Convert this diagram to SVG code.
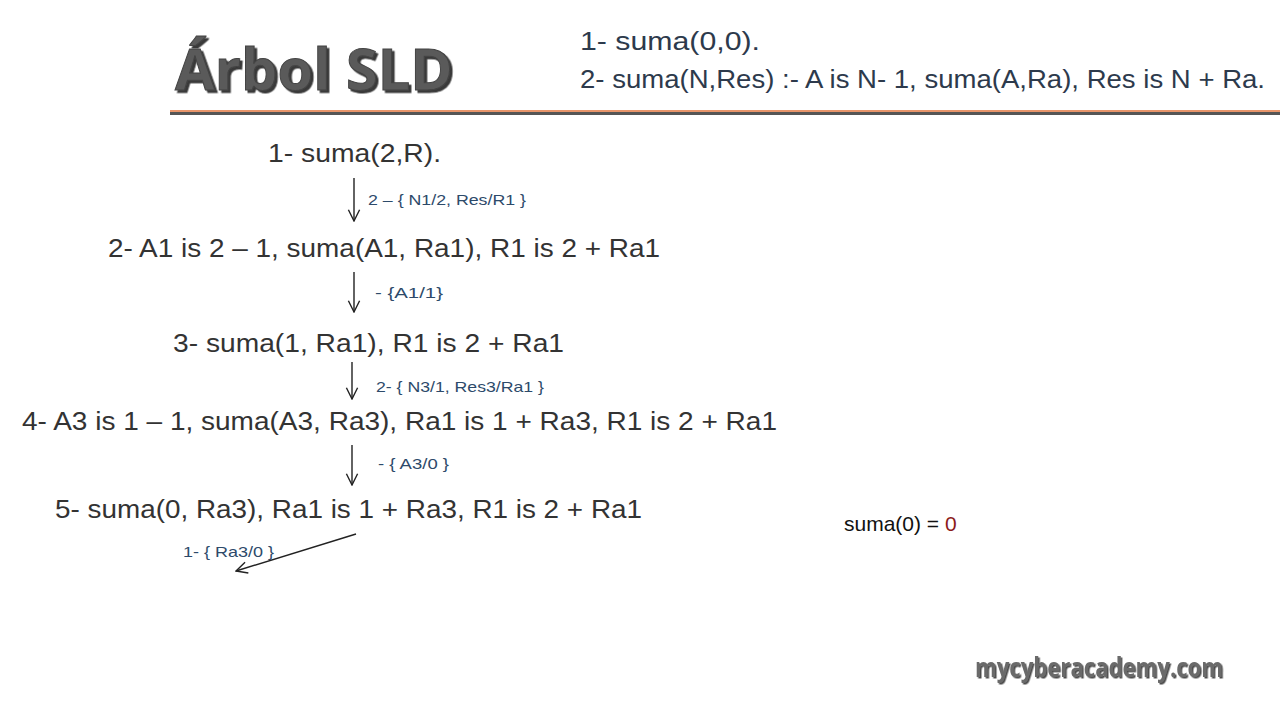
<svg xmlns="http://www.w3.org/2000/svg" width="1280" height="720" viewBox="0 0 1280 720">
<defs>
<style>
.node{font-family:"Liberation Sans",Arial,sans-serif;font-size:25px;fill:#333}
.hdr{font-family:"Liberation Sans",Arial,sans-serif;font-size:25px;fill:#2d3a4c}
.lbl{font-family:"Liberation Sans",Arial,sans-serif;font-size:15px;fill:#2d4a6a}
.conn{stroke:#222;stroke-width:1.4;fill:none}
</style>
<filter id="sh" x="-10%" y="-20%" width="120%" height="150%">
<feDropShadow dx="2.5" dy="2.5" stdDeviation="0.6" flood-color="#222" flood-opacity="0.9"/>
</filter>
<filter id="sh2" x="-10%" y="-20%" width="120%" height="150%">
<feDropShadow dx="1.5" dy="1.5" stdDeviation="0.5" flood-color="#222" flood-opacity="0.8"/>
</filter>
<marker id="ah" viewBox="0 0 20 20" refX="18" refY="10" markerWidth="14" markerHeight="14" markerUnits="userSpaceOnUse" orient="auto">
<path d="M2,2 L18,10 L2,18" fill="none" stroke="#222" stroke-width="2"/>
</marker>
</defs>
<rect width="1280" height="720" fill="#fff"/>
<g id="title">
<text x="175" y="90" font-family="Open Sans,Liberation Sans,sans-serif" font-size="58" font-weight="bold" fill="#5a5a5a" stroke="#444" stroke-width="1" filter="url(#sh)" textLength="278" lengthAdjust="spacingAndGlyphs">Árbol SLD</text>
<rect x="170" y="111" width="1110" height="4" fill="#555"/>
<rect x="170" y="110" width="1110" height="2" fill="#e8956a"/>
</g>
<g id="rules">
<text class="hdr" x="580" y="50" textLength="180" lengthAdjust="spacingAndGlyphs">1- suma(0,0).</text>
<text class="hdr" x="580" y="88" textLength="685" lengthAdjust="spacingAndGlyphs">2- suma(N,Res) :- A is N- 1, suma(A,Ra), Res is N + Ra.</text>
</g>
<g id="n1"><text class="node" x="268" y="162" textLength="173" lengthAdjust="spacingAndGlyphs">1- suma(2,R).</text></g>
<g id="n2"><text class="node" x="108" y="257" textLength="552" lengthAdjust="spacingAndGlyphs">2- A1 is 2 – 1, suma(A1, Ra1), R1 is 2 + Ra1</text></g>
<g id="n3"><text class="node" x="173" y="352" textLength="391" lengthAdjust="spacingAndGlyphs">3-  suma(1, Ra1), R1 is 2 + Ra1</text></g>
<g id="n4"><text class="node" x="22" y="430" textLength="755" lengthAdjust="spacingAndGlyphs">4-  A3 is 1 – 1, suma(A3, Ra3), Ra1 is 1 + Ra3, R1 is 2 + Ra1</text></g>
<g id="n5"><text class="node" x="55" y="518" textLength="587" lengthAdjust="spacingAndGlyphs">5-  suma(0, Ra3), Ra1 is 1 + Ra3, R1 is 2 + Ra1</text></g>
<g id="connectors">
<line class="conn" x1="354" y1="178" x2="354" y2="221" marker-end="url(#ah)"/>
<line class="conn" x1="354" y1="272" x2="354" y2="312" marker-end="url(#ah)"/>
<line class="conn" x1="352" y1="362" x2="352" y2="399" marker-end="url(#ah)"/>
<line class="conn" x1="352" y1="445" x2="352" y2="485" marker-end="url(#ah)"/>
<line class="conn" x1="356" y1="534" x2="236" y2="571" marker-end="url(#ah)"/>
<text class="lbl" x="368" y="205" textLength="158" lengthAdjust="spacingAndGlyphs">2 – { N1/2, Res/R1 }</text>
<text class="lbl" x="375" y="298" textLength="68" lengthAdjust="spacingAndGlyphs">- {A1/1}</text>
<text class="lbl" x="376" y="392" textLength="168" lengthAdjust="spacingAndGlyphs">2- { N3/1, Res3/Ra1 }</text>
<text class="lbl" x="378" y="469" textLength="71" lengthAdjust="spacingAndGlyphs">- { A3/0 }</text>
<text class="lbl" x="183" y="557" textLength="91" lengthAdjust="spacingAndGlyphs">1- { Ra3/0 }</text>
</g>
<g id="note">
<text x="844" y="531" font-family="Liberation Sans,Arial,sans-serif" font-size="21" fill="#111">suma(0) = <tspan fill="#8b1a1a">0</tspan></text>
</g>
<g id="brand">
<text x="975" y="677" font-family="Open Sans,Liberation Sans,sans-serif" font-size="26" font-weight="bold" fill="#6a6a6a" filter="url(#sh2)" textLength="248" lengthAdjust="spacingAndGlyphs">mycyberacademy.com</text>
</g>
</svg>
